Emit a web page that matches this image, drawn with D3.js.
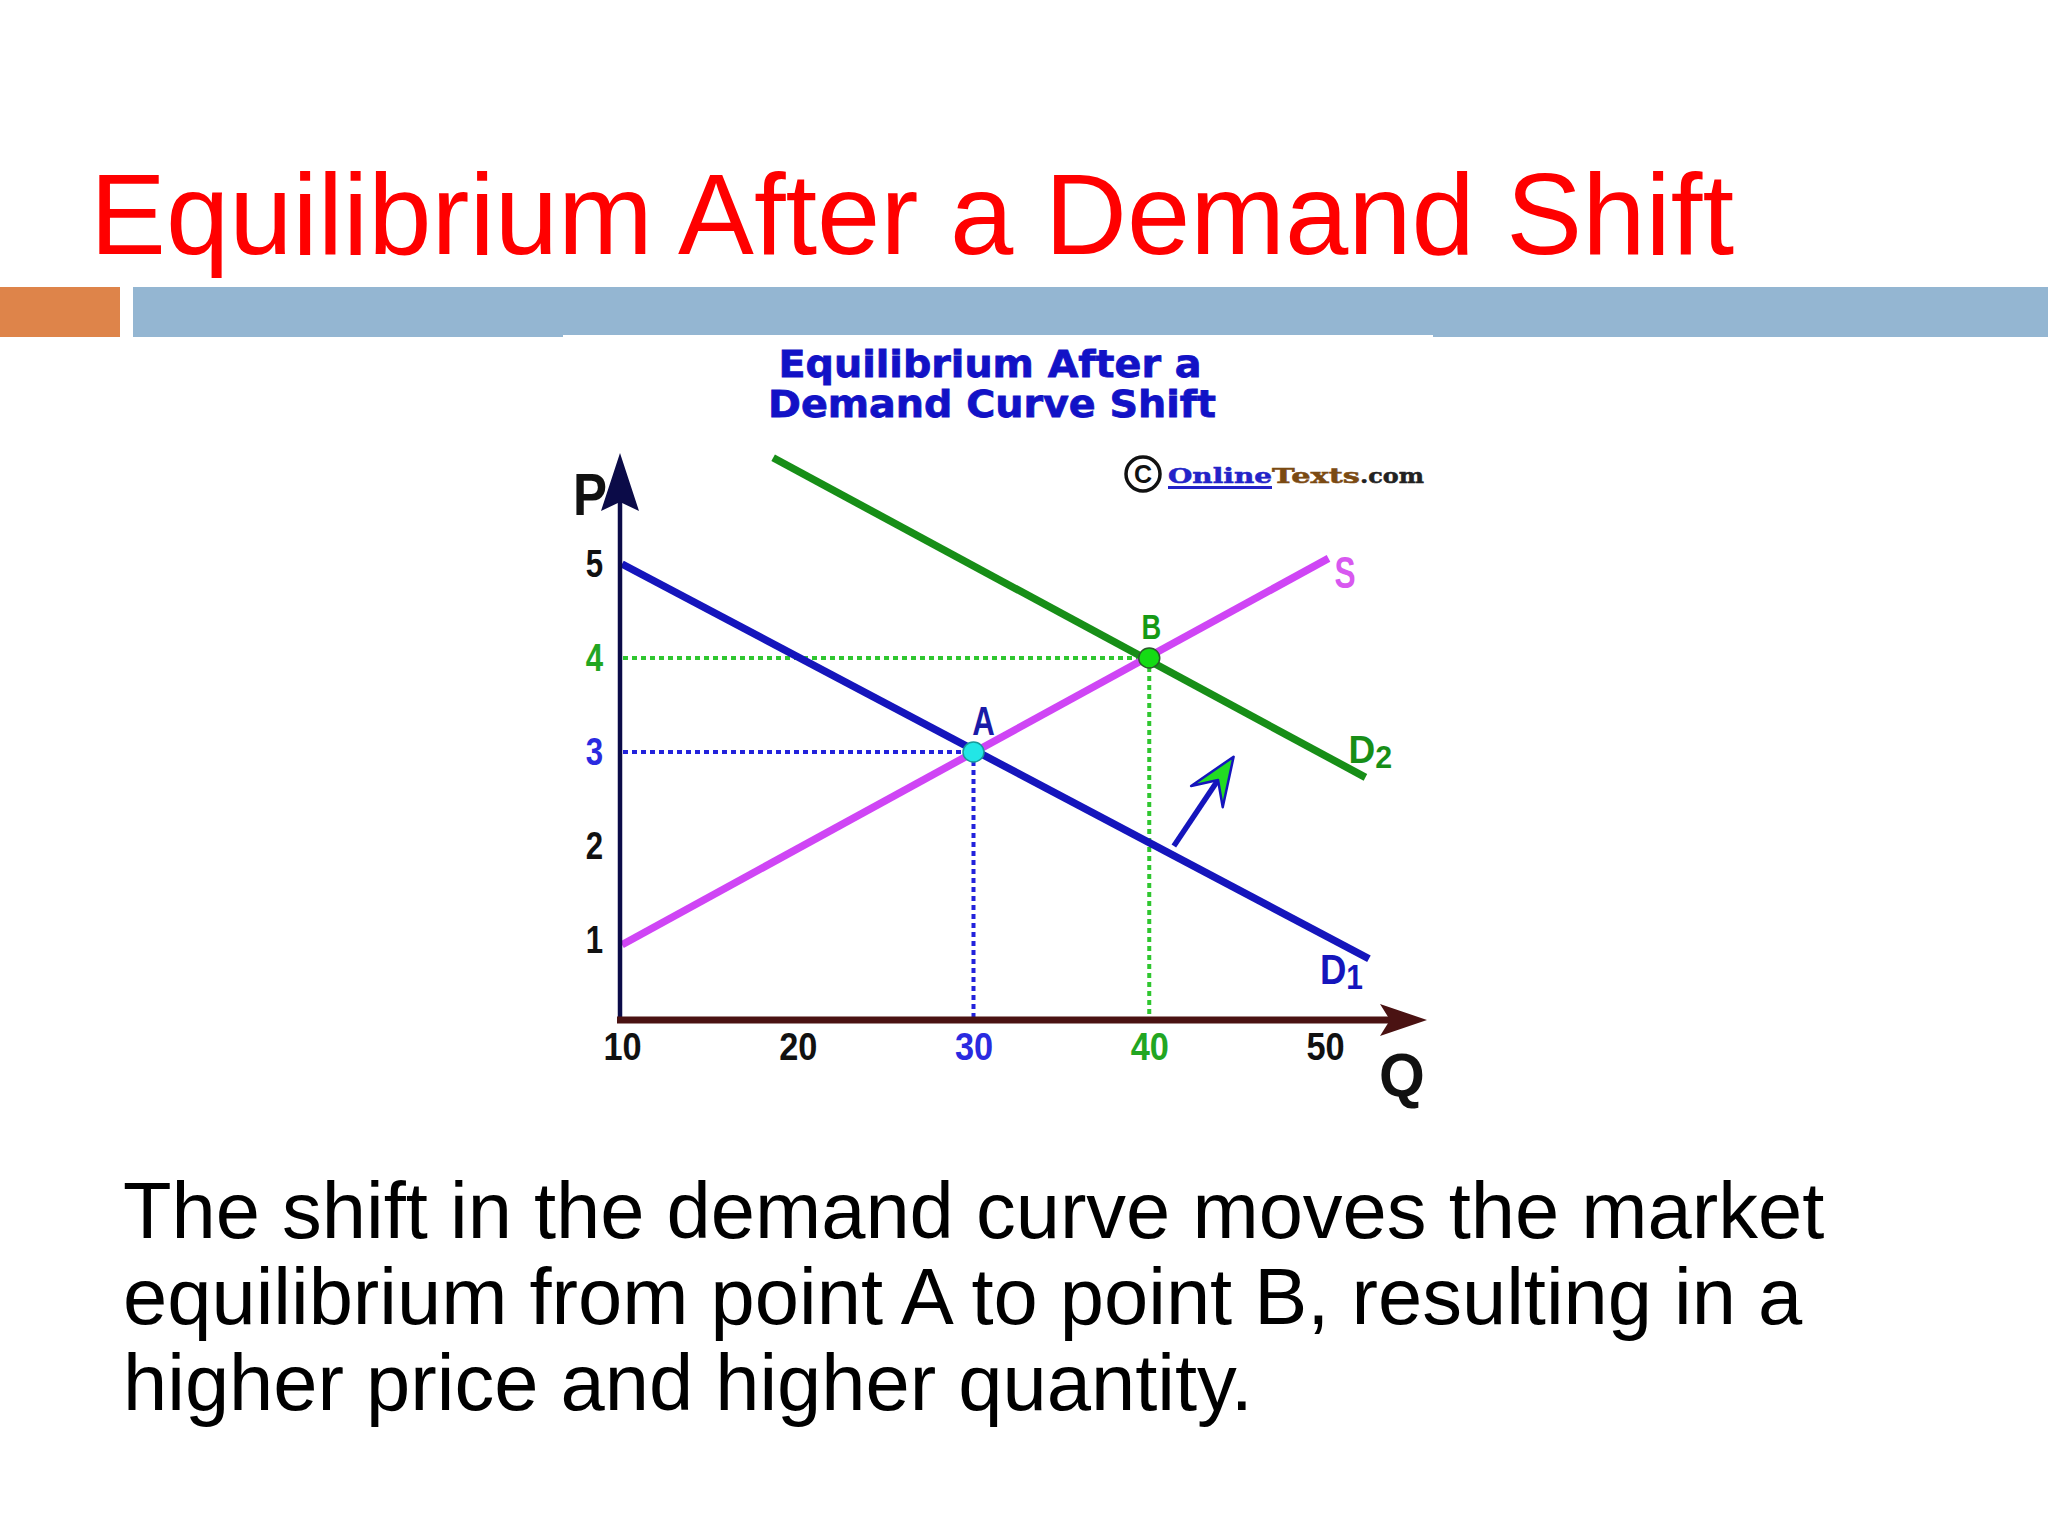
<!DOCTYPE html>
<html>
<head>
<meta charset="utf-8">
<script src="https://cdn.jsdelivr.net/npm/d3@7/dist/d3.min.js"></script>
<style>
  html, body { margin: 0; padding: 0; background: #ffffff; }
  svg { display: block; }
</style>
</head>
<body>
<svg id="slide" width="2048" height="1536"></svg>
<script>
// ---------------- DATA ----------------
const slideTitle = "Equilibrium After a Demand Shift";
const chartTitleLines = ["Equilibrium After a", "Demand Curve Shift"];
const bodyLines = [
  "The shift in the demand curve moves the market",
  "equilibrium from point A to point B, resulting in a",
  "higher price and higher quantity."
];
const priceTicks = [1, 2, 3, 4, 5];
const quantityTicks = [10, 20, 30, 40, 50];
const demand1 = [{ q: 10, p: 5 }, { q: 52.5, p: 0.8 }];
const supply = [{ q: 10, p: 0.95 }, { q: 50.2, p: 5.06 }];
const demand2 = [{ q: 18.6, p: 6.13 }, { q: 52.3, p: 2.73 }];
const equilibria = [{ name: "A", q: 30, p: 3 }, { name: "B", q: 40, p: 4 }];
const shiftArrow = [{ q: 41.4, p: 2.0 }, { q: 44.8, p: 2.95 }];
const axisNames = { price: "P", quantity: "Q" };
const curveNames = { supply: "S", demand1: ["D", "1"], demand2: ["D", "2"] };
const logoParts = ["Online", "Texts", ".com"];

// ---------------- STYLES ----------------
const C = {
  red: "#ff0000", orange: "#de844a", steel: "#94b6d2",
  titleBlue: "#1212c6", d1: "#1515bc", s: "#cf45f5", d2: "#178e17",
  dotBlue: "#2222dc", dotGreen: "#2fc62f", tickGreen: "#22a622", tickBlue: "#2a2ae0",
  yAxis: "#0b0b48", xAxis: "#4a1212", ink: "#111111"
};
const sans = "'Liberation Sans', Arial, Helvetica, sans-serif";

const svg = d3.select("#slide");
svg.append("rect").attr("width", 2048).attr("height", 1536).attr("fill", "#fff");

// narrow bold label helper (horizontally condensed)
function label(parent, px, py, txt, size, color, sx, anchor) {
  const t = parent.append("g").attr("transform", `translate(${px},${py}) scale(${sx},1)`)
    .append("text").attr("text-anchor", anchor || "middle")
    .attr("font-family", sans).attr("font-weight", "bold").attr("font-size", size).attr("fill", color);
  if (Array.isArray(txt)) {
    t.append("tspan").text(txt[0]);
    t.append("tspan").attr("font-size", size * 0.82).attr("dy", size * 0.12).text(txt[1]);
  } else t.text(txt);
  return t;
}

// slide title
svg.append("text").attr("x", 90).attr("y", 254)
  .attr("font-family", sans).attr("font-size", 115).attr("fill", C.red)
  .attr("textLength", 1644).attr("lengthAdjust", "spacingAndGlyphs")
  .text(slideTitle);

// header bars
svg.append("rect").attr("x", 0).attr("y", 287).attr("width", 120).attr("height", 50).attr("fill", C.orange);
svg.append("rect").attr("x", 133).attr("y", 287).attr("width", 1915).attr("height", 50).attr("fill", C.steel);
// chart picture background
svg.append("rect").attr("x", 563).attr("y", 335).attr("width", 870).attr("height", 780).attr("fill", "#fff");

// chart title
const ctWidths = [423, 448];
const ctCenters = [990, 992];
chartTitleLines.forEach((t, i) => {
  svg.append("text")
    .attr("x", ctCenters[i] - ctWidths[i] / 2).attr("y", 377 + i * 40)
    .attr("font-family", "'DejaVu Sans', Verdana, sans-serif").attr("font-weight", "bold")
    .attr("font-size", 38).attr("fill", C.titleBlue)
    .attr("stroke", C.titleBlue).attr("stroke-width", 0.8)
    .attr("textLength", ctWidths[i]).attr("lengthAdjust", "spacingAndGlyphs")
    .text(t);
});

// logo
const logo = svg.append("g");
logo.append("circle").attr("cx", 1143).attr("cy", 474).attr("r", 17)
  .attr("fill", "#fff").attr("stroke", C.ink).attr("stroke-width", 3.5);
logo.append("text").attr("x", 1143).attr("y", 483).attr("text-anchor", "middle")
  .attr("font-family", sans).attr("font-weight", "bold").attr("font-size", 25).attr("fill", C.ink).text("C");
const logoX = [1168, 1272, 1360], logoW = [104, 88, 64], logoCol = ["#2323c8", "#7b4a12", "#222"];
logoParts.forEach((t, i) => {
  logo.append("text").attr("x", logoX[i]).attr("y", 483)
    .attr("font-family", "'DejaVu Serif', 'Liberation Serif', serif").attr("font-weight", "bold")
    .attr("font-size", 21).attr("fill", logoCol[i]).attr("stroke", logoCol[i]).attr("stroke-width", 0.5)
    .attr("textLength", logoW[i]).attr("lengthAdjust", "spacingAndGlyphs").text(t);
});
logo.append("rect").attr("x", 1168).attr("y", 486).attr("width", 104).attr("height", 3).attr("fill", "#2323c8");

// ---------------- SCALES ----------------
const x = d3.scaleLinear().domain([10, 50]).range([622, 1325]);
const y = d3.scaleLinear().domain([1, 5]).range([940, 564]);
const axisX = 620, axisY = 1020;

const g = svg.append("g");

// guide dotted lines
const eqColors = { A: C.dotBlue, B: C.dotGreen };
equilibria.forEach(e => {
  g.append("line").attr("x1", axisX + 3).attr("x2", x(e.q)).attr("y1", y(e.p)).attr("y2", y(e.p))
    .attr("stroke", eqColors[e.name]).attr("stroke-width", 4).attr("stroke-dasharray", "5,4");
  g.append("line").attr("x1", x(e.q)).attr("x2", x(e.q)).attr("y1", y(e.p)).attr("y2", axisY - 3)
    .attr("stroke", eqColors[e.name]).attr("stroke-width", 4).attr("stroke-dasharray", "5,4");
});

// curves
const line = d3.line().x(d => x(d.q)).y(d => y(d.p));
[[demand2, C.d2], [demand1, C.d1], [supply, C.s]].forEach(([data, col]) => {
  g.append("path").datum(data).attr("d", line).attr("fill", "none")
    .attr("stroke", col).attr("stroke-width", 7.5);
});

// axes lines
g.append("line").attr("x1", axisX).attr("x2", axisX).attr("y1", 480).attr("y2", axisY + 3)
  .attr("stroke", C.yAxis).attr("stroke-width", 4.5);
g.append("path").attr("d", `M${axisX},453 L${axisX - 19},511 L${axisX},502 L${axisX + 19},511 Z`).attr("fill", C.yAxis);
g.append("line").attr("x1", axisX - 3).attr("x2", 1395).attr("y1", axisY).attr("y2", axisY)
  .attr("stroke", C.xAxis).attr("stroke-width", 7);
g.append("path").attr("d", `M1427,${axisY} L1380,${axisY - 16} L1390,${axisY} L1380,${axisY + 16} Z`).attr("fill", C.xAxis);

// tick labels via d3 axes
const tickCol = v => ({ 3: C.tickBlue, 4: C.tickGreen })[v] || C.ink;
const qTickCol = v => ({ 30: C.tickBlue, 40: C.tickGreen })[v] || C.ink;
const ySx = 0.8, xSx = 0.88;
const yAxisG = g.append("g").attr("transform", `translate(${axisX},0)`)
  .call(d3.axisLeft(y).tickValues(priceTicks).tickSize(0).tickPadding(17).tickFormat(d3.format("d")));
const xAxisG = g.append("g").attr("transform", `translate(0,${axisY})`)
  .call(d3.axisBottom(x).tickValues(quantityTicks).tickSize(0).tickPadding(12).tickFormat(d3.format("d")));
[yAxisG, xAxisG].forEach(a => {
  a.select(".domain").remove();
  a.selectAll("text").attr("font-family", sans).attr("font-weight", "bold").attr("font-size", 39);
});
yAxisG.selectAll("text").attr("fill", d => tickCol(d))
  .attr("x", -17 / ySx).attr("transform", `scale(${ySx},1)`);
xAxisG.selectAll("text").attr("fill", d => qTickCol(d)).attr("transform", `scale(${xSx},1)`);

// axis names
label(g, 573, 515, axisNames.price, 60, C.ink, 0.85, "start");
label(g, 1402, 1096, axisNames.quantity, 62, C.ink, 0.95);

// equilibrium points
const ptStyle = { A: ["#22e6e6", "#169a9a"], B: ["#14dc14", "#2a5a2a"] };
const labCol = { A: "#1a1aa8", B: "#159a15" };
const labSize = { A: 40, B: 35 }, labDx = { A: 10, B: 2 }, labDy = { A: -17, B: -19 };
equilibria.forEach(e => {
  g.append("ellipse").attr("cx", x(e.q)).attr("cy", y(e.p)).attr("rx", 10.5).attr("ry", 10)
    .attr("fill", ptStyle[e.name][0]).attr("stroke", ptStyle[e.name][1]).attr("stroke-width", 1.5);
  label(g, x(e.q) + labDx[e.name], y(e.p) + labDy[e.name], e.name, labSize[e.name], labCol[e.name], 0.78);
});

// curve labels (anchored near curve ends)
const sEnd = supply[supply.length - 1];
label(g, x(sEnd.q) + 6, y(sEnd.p) + 30, curveNames.supply, 44, "#d858f0", 0.72, "start");
const d2End = demand2[demand2.length - 1];
label(g, x(d2End.q) - 17, y(d2End.p) - 14, curveNames.demand2, 39, C.d2, 0.95, "start");
const d1End = demand1[demand1.length - 1];
label(g, x(d1End.q) - 49, y(d1End.p) + 25, curveNames.demand1, 43, C.d1, 0.85, "start");

// shift arrow
const [a0, a1] = shiftArrow.map(d => [x(d.q), y(d.p)]);
const ang = Math.atan2(a1[1] - a0[1], a1[0] - a0[0]);
const pt = (len, off) => [a1[0] - len * Math.cos(ang) - off * Math.sin(ang), a1[1] - len * Math.sin(ang) + off * Math.cos(ang)];
const notch = pt(28, 0);
g.append("line").attr("x1", a0[0]).attr("y1", a0[1]).attr("x2", notch[0]).attr("y2", notch[1])
  .attr("stroke", C.d1).attr("stroke-width", 5.5);
const head = [a1, pt(48, 19), notch, pt(48, -19)];
g.append("path").attr("d", "M" + head.map(p => p.join(",")).join("L") + "Z")
  .attr("fill", "#22dd22").attr("stroke", C.d1).attr("stroke-width", 2.5).attr("stroke-linejoin", "round");

// body text
bodyLines.forEach((t, i) => {
  svg.append("text").attr("x", 123).attr("y", 1238 + i * 86)
    .attr("font-family", sans).attr("font-size", 79.5).attr("fill", "#000").text(t);
});
</script>
</body>
</html>
